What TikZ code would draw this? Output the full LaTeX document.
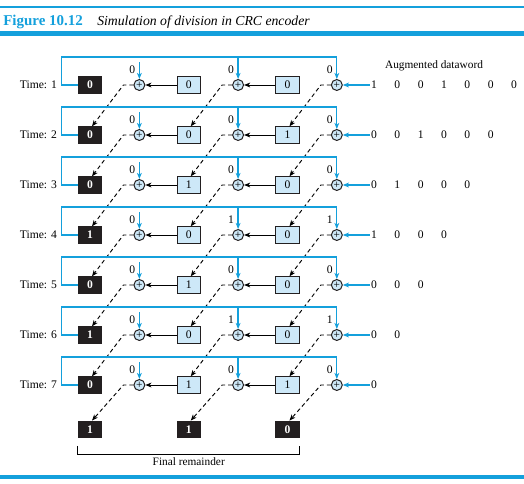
\documentclass[tikz,border=0pt]{standalone}
\usepackage{fontspec}
\setmainfont{Liberation Serif}
\usepackage{tikz}
\usetikzlibrary{positioning,calc,arrows.meta}
\definecolor{crcblue}{RGB}{20,160,220}
\definecolor{regfill}{RGB}{205,232,248}
\definecolor{regdark}{RGB}{35,31,32}
\tikzset{>={Stealth[length=4.6pt,width=3.6pt,inset=1.3pt]}}
\tikzstyle{reg}    = [draw=regdark,
                      fill=regfill,
                      line width=0.8pt,
                      minimum width=17.5pt,
                      minimum height=12.2pt,
                      inner sep=0pt,
                      font=\fontsize{8.7}{10}\selectfont]
\tikzstyle{outreg} = [reg,
                      fill=regdark,
                      text=white,
                      font=\fontsize{8.7}{10}\selectfont\bfseries]
\tikzstyle{xor}    = [circle,
                      draw=regdark,
                      fill=regfill,
                      line width=0.75pt,
                      minimum size=8.2pt,
                      inner sep=0pt,
                      font=\fontsize{8.5}{8.5}\selectfont]
\tikzstyle{bit}    = [inner sep=1pt,
                      font=\fontsize{8.7}{10}\selectfont]
\tikzstyle{feed}   = [->,
                      crcblue,
                      line width=0.95pt]
\tikzstyle{arrow}  = [->,
                      line width=0.75pt]
\tikzstyle{carry}  = [->,
                      dash pattern=on 3pt off 2.2pt,
                      line width=0.7pt]

\begin{document}
\begin{tikzpicture}[x=0.75pt, y=-0.75pt, node distance=23.4pt]
  \useasboundingbox (0,0) rectangle (524,483);

  % Title and rules
  \draw[crcblue, line width=1.5pt] (0,7) -- (524,7);
  \draw[crcblue, line width=3.3pt] (0,33.5) -- (524,33.5);
  \draw[crcblue, line width=2.5pt] (0,477) -- (524,477);
  \node[anchor=base west, inner sep=0pt, text=crcblue,
    font=\fontsize{11.25}{13}\selectfont\bfseries] (fig) at (3,25) {Figure 10.12};
  \node[anchor=base west, inner sep=0pt,
    font=\fontsize{10.3}{12}\selectfont\itshape] (cap) at (97,25) {Simulation of division in CRC encoder};

  % Nodes
  \foreach \k/\a/\b/\c/\p/\q/\bits in {1/0/0/0/0/0/{1,0,0,1,0,0,0},
      2/0/0/1/0/0/{0,0,1,0,0,0}, 3/0/1/0/0/0/{0,1,0,0,0},
      4/1/0/0/1/1/{1,0,0,0}, 5/0/1/0/0/0/{0,0,0},
      6/1/0/0/1/1/{0,0}, 7/0/1/1/0/0/{0}} {
    \node[outreg] (r\k-1) at (90,{35+50*\k}) {\a};
    \node[xor, right=of r\k-1] (x\k-1) {+};
    \node[reg, right=of x\k-1] (r\k-2) {\b};
    \node[xor, right=of r\k-2] (x\k-2) {+};
    \node[reg, right=of x\k-2] (r\k-3) {\c};
    \node[xor, right=of r\k-3] (x\k-3) {+};
    \node[bit, left=14.5pt of r\k-1] (t\k) {Time: \k};
    \node[bit] (l\k-1) at ($(x\k-1)+(-7,-15)$) {0};
    \node[bit] (l\k-2) at ($(x\k-2)+(-7,-15)$) {\p};
    \node[bit] (l\k-3) at ($(x\k-3)+(-7,-15)$) {\q};
    \foreach \d [count=\i] in \bits
      \node[bit] (d\k-\i) at ({374+23.33*(\i-1)},{35+50*\k}) {\d};
    \coordinate (fb\k) at ($(r\k-1.west)+(-16,-28)$);
    \coordinate (in\k) at ($(x\k-1.north)+(0,-17)$);
  }
  \foreach \j/\v in {1/1,2/1,3/0}
    \node[outreg, below=20.2pt of r7-\j] (r8-\j) {\v};
  \node[bit, font=\fontsize{8.5}{10}\selectfont] (aug) at (434,66) {Augmented dataword};

  % Edges
  \foreach \k in {1,...,7} {
    \pgfmathtruncatemacro{\n}{\k+1}
    \draw[feed] (r\k-1.west) -| (fb\k) -| (x\k-3.north);
    \draw[feed] (fb\k -| x\k-2.north) -- (x\k-2.north);
    \draw[feed] (in\k) -- (x\k-1.north);
    \draw[feed] (d\k-1) -- (x\k-3);
    \draw[arrow] (r\k-2) -- (x\k-1);
    \draw[arrow] (r\k-3) -- (x\k-2);
    \foreach \j in {1,2,3}
      \draw[carry] (x\k-\j.west) -- ++(-10,0) -- ([xshift=1.5pt]r\n-\j.north);
  }

  % Final remainder
  \draw[line width=0.6pt] ($(r8-1.south west)+(0,8)$) -- ($(r8-1.south west)+(0,16)$)
    -- node[bit, below=1.5pt, font=\fontsize{8.5}{10}\selectfont] (fin) {Final remainder}
    ($(r8-3.south east)+(0,16)$) -- ($(r8-3.south east)+(0,8)$);

\end{tikzpicture}
\end{document}
